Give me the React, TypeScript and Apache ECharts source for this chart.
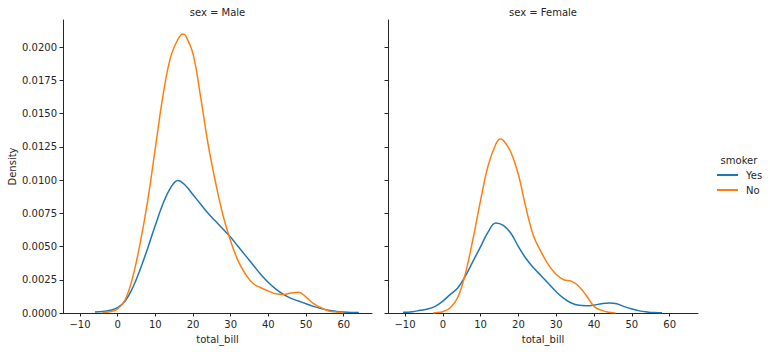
import React, { useEffect, useRef } from "react";
import * as echarts from "echarts";

// ---- data ----
const xTicks = [-10, 0, 10, 20, 30, 40, 50, 60];
const yTicks = [0, 0.0025, 0.005, 0.0075, 0.01, 0.0125, 0.015, 0.0175, 0.02];
const panels = ["sex = Male", "sex = Female"];
const smokerLevels = ["Yes", "No"];

const maleYesX = [-6, -4, -2, 0, 2, 4, 6, 8, 10, 12, 14, 16, 18, 20, 22, 24, 26, 28, 30, 32, 34, 36, 38, 40, 42, 44, 46, 48, 50, 52, 54, 56, 58, 60, 62, 64];
const maleYesY = [0.00007, 0.00012, 0.0002, 0.0004, 0.0009, 0.0019, 0.0033, 0.0049, 0.0066, 0.0082, 0.0094, 0.00997, 0.0096, 0.0089, 0.0082, 0.0075, 0.0069, 0.0063, 0.0057, 0.005, 0.0043, 0.0036, 0.0029, 0.0023, 0.0018, 0.0014, 0.0011, 0.0009, 0.0007, 0.0005, 0.00033, 0.0002, 0.00012, 0.00007, 0.00004, 0.00003];

const maleNoX = [-4, -2, 0, 2, 4, 6, 8, 10, 12, 14, 16, 17.3, 18, 20, 22, 24, 26, 28, 30, 32, 34, 36, 38, 40, 42, 44, 46, 48, 50, 52, 54, 56, 58, 60];
const maleNoY = [0.00003, 0.0001, 0.0003, 0.001, 0.0027, 0.0053, 0.0085, 0.0124, 0.0163, 0.0192, 0.0206, 0.021, 0.0209, 0.0195, 0.0163, 0.0127, 0.0098, 0.0073, 0.0054, 0.0039, 0.0029, 0.0022, 0.0019, 0.00165, 0.00145, 0.0014, 0.0015, 0.00157, 0.0012, 0.0007, 0.0004, 0.00015, 0.00007, 0.00003];

const femaleYesX = [-10.5, -8, -6, -4, -2, 0, 2, 4, 6, 8, 10, 12, 14, 16, 18, 20, 22, 24, 26, 28, 30, 32, 34, 36, 38, 40, 42, 44, 46, 48, 50, 52, 54, 56, 58];
const femaleYesY = [0.00005, 0.0001, 0.0002, 0.0003, 0.0005, 0.0009, 0.0014, 0.0019, 0.0028, 0.0039, 0.005, 0.0061, 0.00678, 0.0066, 0.006, 0.005, 0.0041, 0.0034, 0.0028, 0.0022, 0.0016, 0.0011, 0.00075, 0.00058, 0.00055, 0.0006, 0.0007, 0.00075, 0.0007, 0.00048, 0.0003, 0.00016, 0.00008, 0.00003, 0.00001];

const femaleNoX = [-2.6, -2, 0, 2, 4, 6, 8, 10, 12, 14, 15.2, 16, 18, 20, 22, 24, 26, 28, 30, 32, 34, 36, 38, 40, 42, 44, 45.7];
const femaleNoY = [0, 0.00002, 0.0001, 0.0004, 0.0012, 0.003, 0.0056, 0.0085, 0.0111, 0.0127, 0.0131, 0.013, 0.0121, 0.0104, 0.0079, 0.0058, 0.0046, 0.0036, 0.0029, 0.0025, 0.0024, 0.002, 0.0013, 0.0005, 0.0002, 0.00005, 0];

const zip = (xs: number[], ys: number[]) => xs.map((x, i) => [x, ys[i]]);

const COLORS = ["#1f77b4", "#ff7f0e"];
const INK = "#262626";
const FONT = "DejaVu Sans";

export default function App() {
  const ref = useRef<HTMLDivElement>(null);
  useEffect(() => {
    if (!ref.current) return;
    const chart = echarts.init(ref.current, undefined, { renderer: "svg" });
    const grids = [
      { left: 63, top: 20, width: 309, height: 293 },
      { left: 388, top: 20, width: 310, height: 293 },
    ];
    const xAxes = grids.map((_, i) => ({
      type: "value",
      gridIndex: i,
      min: -14.5,
      max: 67.5,
      name: "total_bill",
      nameLocation: "middle",
      nameGap: 21,
      nameTextStyle: { fontFamily: FONT, fontSize: 10, color: INK },
      axisLine: { show: true, onZero: false, lineStyle: { color: INK, width: 1 } },
      axisTick: { show: true, length: 3.5, customValues: xTicks, lineStyle: { color: INK } },
      axisLabel: { customValues: xTicks, margin: 6, fontFamily: FONT, fontSize: 10, color: INK, formatter: (v: number) => (v < 0 ? "\u2212" + Math.abs(v) : String(v)) },
      splitLine: { show: false },
    }));
    const yAxes = grids.map((_, i) => ({
      type: "value",
      gridIndex: i,
      min: 0,
      max: 0.02205,
      name: i === 0 ? "Density" : "",
      nameLocation: "middle",
      nameGap: 46,
      nameTextStyle: { fontFamily: FONT, fontSize: 10, color: INK },
      axisLine: { show: true, onZero: false, lineStyle: { color: INK, width: 1 } },
      axisTick: { show: true, length: 3.5, customValues: yTicks, lineStyle: { color: INK } },
      axisLabel: { show: i === 0, customValues: yTicks, margin: 6, fontFamily: FONT, fontSize: 10, color: INK, formatter: (v: number) => v.toFixed(4) },
      splitLine: { show: false },
    }));
    const mk = (name: string, data: number[][], idx: number, color: string) => ({
      type: "line",
      name,
      data,
      xAxisIndex: idx,
      yAxisIndex: idx,
      smooth: 0.4,
      showSymbol: false,
      symbol: "none",
      lineStyle: { color, width: 1.5 },
      itemStyle: { color },
    });
    chart.setOption({
      animation: false,
      backgroundColor: "#ffffff",
      grid: grids,
      xAxis: xAxes,
      yAxis: yAxes,
      legend: {
        data: smokerLevels,
        orient: "vertical",
        left: 717,
        top: 169,
        padding: 0,
        itemGap: 3,
        itemWidth: 21,
        itemHeight: 2,
        icon: "rect",
        textStyle: { fontFamily: FONT, fontSize: 10, color: INK, lineHeight: 12, padding: [0, 0, 0, 3] },
      },
      graphic: [
        { type: "text", x: 217.5, y: 12, style: { text: panels[0], align: "center", verticalAlign: "middle", fontFamily: FONT, fontSize: 10, fill: INK } },
        { type: "text", x: 543, y: 12, style: { text: panels[1], align: "center", verticalAlign: "middle", fontFamily: FONT, fontSize: 10, fill: INK } },
        { type: "text", x: 739, y: 160, style: { text: "smoker", align: "center", verticalAlign: "middle", fontFamily: FONT, fontSize: 10, fill: INK } },
      ],
      series: [
        mk(smokerLevels[0], zip(maleYesX, maleYesY), 0, COLORS[0]),
        mk(smokerLevels[1], zip(maleNoX, maleNoY), 0, COLORS[1]),
        mk(smokerLevels[0], zip(femaleYesX, femaleYesY), 1, COLORS[0]),
        mk(smokerLevels[1], zip(femaleNoX, femaleNoY), 1, COLORS[1]),
      ],
    });
    return () => chart.dispose();
  }, []);
  return <div ref={ref} style={{ position: "fixed", left: 0, top: 0, width: 770, height: 352 }} />;
}
